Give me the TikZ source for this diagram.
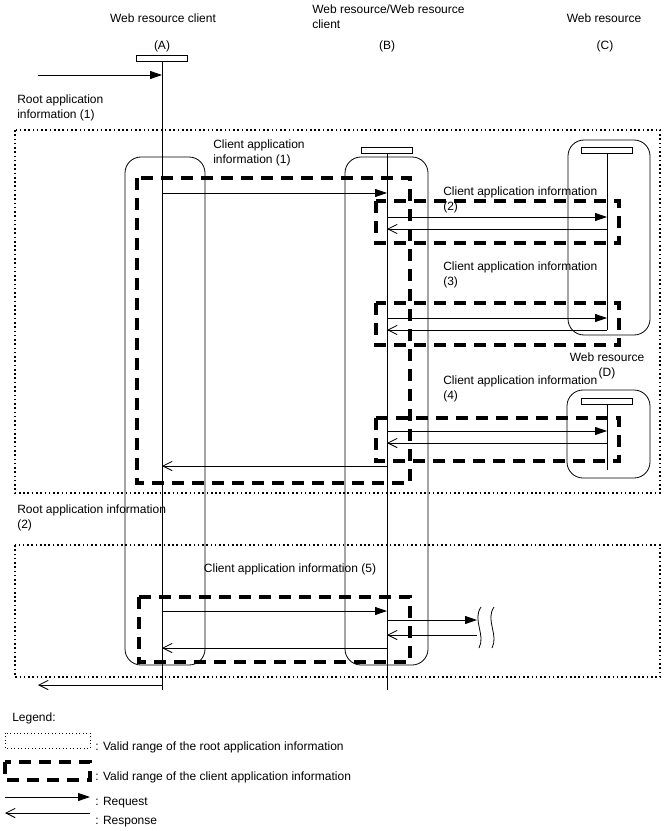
\documentclass[tikz,border=0pt]{standalone}
\usepackage{fontspec}
\setmainfont{Liberation Sans}
\usetikzlibrary{arrows.meta}
\begin{document}
\begin{tikzpicture}[x=0.75pt,y=-0.75pt,
  every node/.style={font=\fontsize{9}{11}\selectfont,inner sep=0pt},
  txt/.style={align=left,anchor=north west},
  act/.style={draw,line width=0.6pt,minimum width=38pt,minimum height=4.5pt,inner sep=0pt},
  life/.style={line width=0.6pt},
  rbox/.style={draw,line width=0.6pt,rounded corners=12pt},
  rootbox/.style={draw,line width=1.2pt,dotted},
  clibox/.style={draw,line width=3pt,dash pattern=on 9pt off 6pt},
  req/.style={-{Triangle[length=9pt,width=6pt]},line width=0.6pt},
  resp/.style={-{Straight Barb[length=7pt,width=7pt]},line width=0.6pt}]
\useasboundingbox (0,0) rectangle (664,831);
% headings
\node (hA) at (163,18) {Web resource client};
\node (lA) at (162,46) {(A)};
\node[txt] (hB) at (312,5) {Web resource/Web resource\\client};
\node (lB) at (387,46) {(B)};
\node (hC) at (604,18) {Web resource};
\node (lC) at (605,46) {(C)};
% root boxes
\draw[rootbox] (15,130) rectangle (660,493);
\draw[rootbox] (15,545) rectangle (660,677);
\node[txt] (r1) at (17,95) {Root application\\information (1)};
\node[txt] (r2) at (17,505) {Root application information\\(2)};
% rounded boxes
\draw[rbox] (125,157) rectangle (205,665);
\draw[rbox] (345,157) rectangle (428,665);
\draw[rbox] (568,140) rectangle (650,335);
\draw[rbox] (567,390) rectangle (650,478);
% activation boxes
\node[act] (A) at (162,58) {};
\node[act] (B) at (387,150) {};
\node[act] (C) at (607,150) {};
\node[act] (D) at (607,401) {};
\node (hD) at (607,357) {Web resource};
\node (lD) at (607,373) {(D)};
\draw[life] (A.south) -- (A.south |- 0,690);
\draw[life] (B.south) -- (B.south |- 0,690);
\draw[life] (C.south) -- (C.south |- 0,330);
\draw[life] (D.south) -- (D.south |- 0,470);
% client boxes
\draw[clibox] (137,178) rectangle (410,483);
\draw[clibox] (376,201) rectangle (619,243);
\draw[clibox] (376,303) rectangle (619,345);
\draw[clibox] (376,418) rectangle (619,461);
\draw[clibox] (139,597) rectangle (410,662);
\node[txt] (c1) at (213,140) {Client application\\information (1)};
\node[txt] (c2) at (443,187) {Client application information\\(2)};
\node[txt] (c3) at (443,262) {Client application information\\(3)};
\node[txt] (c4) at (443,376) {Client application information\\(4)};
\node (c5) at (290,569) {Client application information (5)};
% messages
\coordinate (in) at (38,75);
\coordinate (out) at (38,685);
\draw[req] (in) -- (A.south |- in);
\draw[req] (A.south |- 0,193) -- (B.south |- 0,193);
\draw[req] (B.south |- 0,217) -- (C.south |- 0,217);
\draw[resp] (C.south |- 0,229) -- (B.south |- 0,229);
\draw[req] (B.south |- 0,318) -- (C.south |- 0,318);
\draw[resp] (C.south |- 0,330) -- (B.south |- 0,330);
\draw[req] (B.south |- 0,431) -- (D.south |- 0,431);
\draw[resp] (D.south |- 0,443) -- (B.south |- 0,443);
\draw[resp] (B.south |- 0,466) -- (A.south |- 0,466);
\draw[req] (A.south |- 0,611) -- (B.south |- 0,611);
\coordinate (w1) at (477,620);
\coordinate (w2) at (477,635);
\draw[req] (B.south |- w1) -- (w1);
\draw[resp] (w2) -- (B.south |- w2);
\draw[resp] (B.south |- 0,648) -- (A.south |- 0,648);
\draw[resp] (A.south |- out) -- (out);
% wavy cut
\draw[line width=0.6pt] (481,607) .. controls (472,620) and (486,635) .. (479,648);
\draw[line width=0.6pt] (494,607) .. controls (485,620) and (499,635) .. (492,648);
% legend
\node[anchor=west] (lg) at (12,718) {Legend:};
\draw[line width=0.6pt,dotted] (5,733) rectangle (90,748);
\node[anchor=west] (l1) at (95,747) {: Valid range of the root application information};
\draw[clibox] (5,762) rectangle (90,780);
\node[anchor=west] (l2) at (95,777) {: Valid range of the client application information};
\coordinate (q1) at (5,797); \coordinate (q2) at (90,797);
\draw[req] (q1) -- (q2);
\node[anchor=west] (l3) at (95,803) {: Request};
\coordinate (s1) at (90,813); \coordinate (s2) at (5,813);
\draw[resp] (s1) -- (s2);
\node[anchor=west] (l4) at (95,822) {: Response};
\end{tikzpicture}
\end{document}
